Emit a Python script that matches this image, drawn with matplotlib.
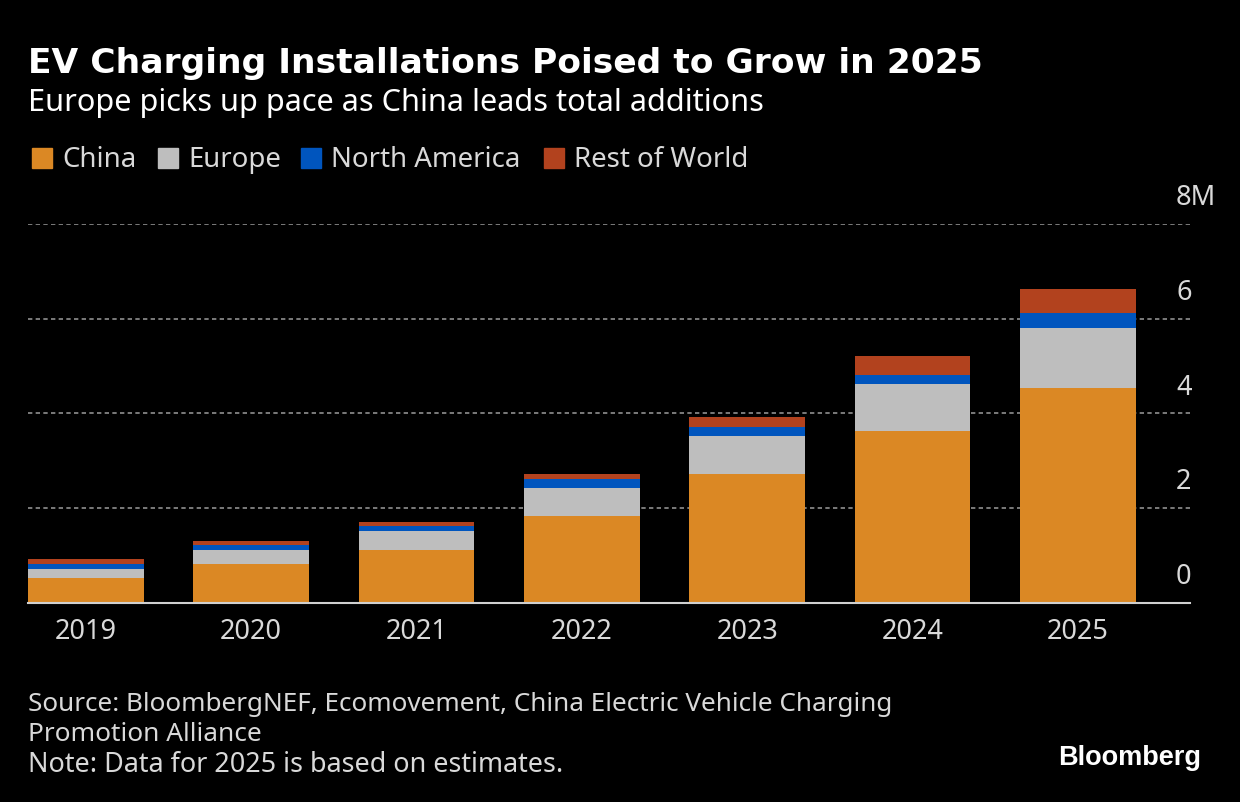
import matplotlib
matplotlib.use("Agg")
import matplotlib.pyplot as plt
from matplotlib.patches import Rectangle

years = ["2019", "2020", "2021", "2022", "2023", "2024", "2025"]
china = [0.51, 0.81, 1.11, 1.82, 2.72, 3.62, 4.53]
europe = [0.2, 0.3, 0.4, 0.6, 0.8, 1.0, 1.27]
north_america = [0.1, 0.1, 0.1, 0.19, 0.19, 0.19, 0.32]
rest_of_world = [0.1, 0.1, 0.1, 0.1, 0.21, 0.4, 0.51]
series_names = ["China", "Europe", "North America", "Rest of World"]
colors = ["#DB8824", "#BEBEBE", "#0055BE", "#B2421E"]
yticks = [0, 2, 4, 6, 8]
yticklabels = ["0", "2", "4", "6", "8M"]
BODY = "Noto Sans"
TXT = "#d9d9d9"
W, H = 1240, 802
fig = plt.figure(figsize=(W/100, H/100), dpi=100, facecolor="black")
ax = fig.add_axes([28/W, 1-602.5/H, (1190-28)/W, (602.5-224)/H], facecolor="black")
xs = list(range(7))
bottom = [0]*7
for vals, name, c in zip([china, europe, north_america, rest_of_world], series_names, colors):
    ax.bar(xs, vals, bottom=bottom, width=0.7, color=c, zorder=3)
    bottom = [b+v for b, v in zip(bottom, vals)]
ax.set_xlim(-0.35, 6.678)
ax.set_ylim(0, 8)
for s in ["top", "left", "right"]:
    ax.spines[s].set_visible(False)
ax.spines["bottom"].set_color("#d0d0d0")
ax.spines["bottom"].set_linewidth(1.5)
ax.spines["bottom"].set_zorder(4)
ax.set_yticks(yticks[1:])
ax.set_yticklabels([])
ax.grid(axis="y", color="#909090", linestyle=(0, (2.6, 2.0)), linewidth=1.2, zorder=1)
ax.tick_params(axis="y", length=0)
ax.tick_params(axis="x", length=0, pad=11.5, labelsize=19.5, labelcolor=TXT)
ax.set_xticks(xs)
ax.set_xticklabels(years, family=BODY)
for t, l in zip(yticks, yticklabels):
    ax.annotate(l, (1, t), xycoords=("axes fraction", "data"), xytext=(-10, 8.3), textcoords="offset points",
                ha="left", va="bottom", fontsize=19.5, color=TXT, family=BODY)

fig.text(28/W, 1-63/H, "EV Charging Installations Poised to Grow in 2025", color="white", fontsize=24.8,
         fontweight="bold", va="center", family="DejaVu Sans")
fig.text(28/W, 1-103.5/H, "Europe picks up pace as China leads total additions", color="white", fontsize=22.1,
         va="center", family=BODY)
lx = [32, 158, 301, 544]
tx = [62, 188, 331, 574]
for x, t, n, c in zip(lx, tx, series_names, colors):
    fig.add_artist(Rectangle((x/W, 1-168/H), 20/W, 20/H, transform=fig.transFigure, color=c))
    fig.text(t/W, 1-160/H, n, color=TXT, fontsize=19.9, va="center", family=BODY)
for y, s, fs in [(704.5, "Source: BloombergNEF, Ecomovement, China Electric Vehicle Charging", 18.8),
                 (734.5, "Promotion Alliance", 18.9), (764.5, "Note: Data for 2025 is based on estimates.", 19.4)]:
    fig.text(28/W, 1-y/H, s, color=TXT, fontsize=fs, va="center", family=BODY)
fig.text(1201/W, 1-758/H, "Bloomberg", color="white", fontsize=19.5, fontweight="bold", ha="right", va="center", family="Liberation Sans")
fig.savefig("out.png", dpi=100, facecolor="black")
